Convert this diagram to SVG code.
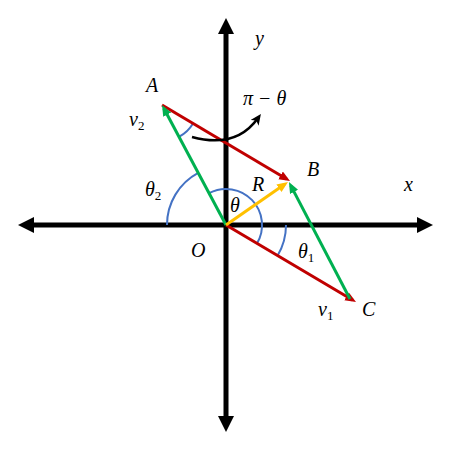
<svg xmlns="http://www.w3.org/2000/svg" width="450" height="450" viewBox="0 0 450 450">
<style>
.ax{stroke:#000;stroke-width:5;fill:none}
.red{stroke:#C00000;stroke-width:3;fill:none}
.grn{stroke:#00B050;stroke-width:3;fill:none}
.yel{stroke:#FFC000;stroke-width:3;fill:none}
.arc{stroke:#4472C4;stroke-width:2;fill:none}
.crv{stroke:#000;stroke-width:2.5;fill:none}
text{font-family:"Liberation Serif","DejaVu Serif",serif;font-style:italic;font-size:20px;fill:#000}
.sub{font-style:normal;font-size:13px}
</style>
<defs>
<marker id="mAx" markerUnits="userSpaceOnUse" markerWidth="18" markerHeight="18" refX="8" refY="8" orient="auto-start-reverse"><path d="M0,0 L16,8 L0,16 z" fill="#000"/></marker>
<marker id="mRed" markerUnits="userSpaceOnUse" markerWidth="12" markerHeight="10" refX="7" refY="4.5" orient="auto"><path d="M0,0 L11,4.5 L0,9 z" fill="#C00000"/></marker>
<marker id="mGrn" markerUnits="userSpaceOnUse" markerWidth="12" markerHeight="10" refX="7" refY="4.5" orient="auto"><path d="M0,0 L11,4.5 L0,9 z" fill="#00B050"/></marker>
<marker id="mYel" markerUnits="userSpaceOnUse" markerWidth="12" markerHeight="10" refX="7" refY="4.5" orient="auto"><path d="M0,0 L11,4.5 L0,9 z" fill="#FFC000"/></marker>
<marker id="mBlk" markerUnits="userSpaceOnUse" markerWidth="14" markerHeight="12" refX="6" refY="5" orient="auto"><path d="M0,0 L11,5 L0,10 L3,5 z" fill="#000"/></marker>
</defs>
<g id="axes">
<line class="ax" x1="26" y1="225" x2="425" y2="225" marker-start="url(#mAx)" marker-end="url(#mAx)"/>
<line class="ax" x1="226" y1="26" x2="226" y2="424" marker-start="url(#mAx)" marker-end="url(#mAx)"/>
</g>
<g id="arcs">
<path class="arc" d="M167,225 A59,59 0 0 1 198.2,172.9"/>
<path class="arc" d="M209.1,193.2 A36,36 0 0 1 256.9,243.5"/>
<path class="arc" d="M286,225 A60,60 0 0 1 277.5,255.8"/>
<path class="arc" d="M178.9,136.8 A36,36 0 0 0 193,123.4"/>
</g>
<g id="connectors">
<line class="red" x1="162" y1="105" x2="286.6" y2="179" marker-end="url(#mRed)"/>
<line class="red" x1="226" y1="225" x2="352.6" y2="300" marker-end="url(#mRed)"/>
<line class="grn" x1="226" y1="225" x2="163.9" y2="108.5" marker-end="url(#mGrn)"/>
<line class="grn" x1="350" y1="299" x2="290.8" y2="185.6" marker-end="url(#mGrn)"/>
<line class="yel" x1="226" y1="225" x2="284.7" y2="184.3" marker-end="url(#mYel)"/>
<path class="crv" d="M192,137 Q236,149 258,118" marker-end="url(#mBlk)"/>
</g>
<g id="labels">
<text x="255" y="45">y</text>
<text x="404" y="191">x</text>
<text x="146" y="92">A</text>
<text x="129" y="126">v<tspan class="sub" dy="4">2</tspan></text>
<text x="243" y="105">π − θ</text>
<text x="307" y="176">B</text>
<text x="252" y="191">R</text>
<text x="230" y="212">θ</text>
<text x="145" y="196">θ<tspan class="sub" dy="4">2</tspan></text>
<text x="191" y="257">O</text>
<text x="298" y="258">θ<tspan class="sub" dy="4">1</tspan></text>
<text x="318" y="316">v<tspan class="sub" dy="4">1</tspan></text>
<text x="362" y="316">C</text>
</g>
</svg>
